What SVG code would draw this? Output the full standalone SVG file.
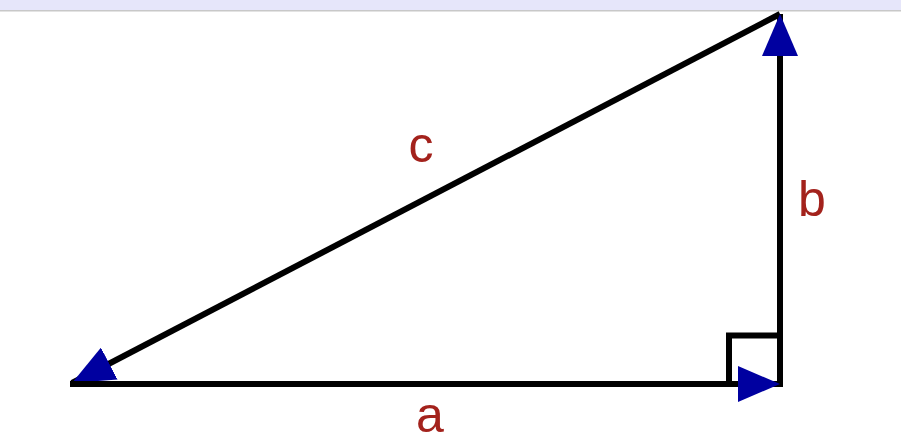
<svg xmlns="http://www.w3.org/2000/svg" width="901" height="440" viewBox="0 0 901 440">
<style>
.side{stroke:#000;stroke-width:6;fill:none}
.lbl{font-family:"Liberation Sans",Arial,sans-serif;font-size:50px;fill:#a3221c;text-anchor:middle}
</style>
<defs>
<marker id="ah" markerUnits="userSpaceOnUse" markerWidth="42" markerHeight="36" refX="42" refY="18" orient="auto" viewBox="0 0 42 36">
<path d="M0,0 L42,18 L0,36 z" fill="#0000a0"/>
</marker>
</defs>
<rect x="0" y="0" width="901" height="10" fill="#e6e6fa"/>
<rect x="0" y="10" width="901" height="1.5" fill="#c8c8c8"/>
<g id="connectors">
<line id="side-c" class="side" x1="780" y1="14" x2="72" y2="383" marker-end="url(#ah)"/>
<line id="side-b" class="side" x1="780" y1="387" x2="780" y2="14" marker-end="url(#ah)"/>
<path id="right-angle" class="side" d="M729,384 V335.5 H780"/>
<line id="side-a" class="side" x1="70" y1="384" x2="780" y2="384" marker-end="url(#ah)"/>
</g>
<g id="label-c"><text class="lbl" x="421" y="162">c</text></g>
<g id="label-b"><text class="lbl" x="812" y="216">b</text></g>
<g id="label-a"><text class="lbl" x="430" y="432">a</text></g>
</svg>
